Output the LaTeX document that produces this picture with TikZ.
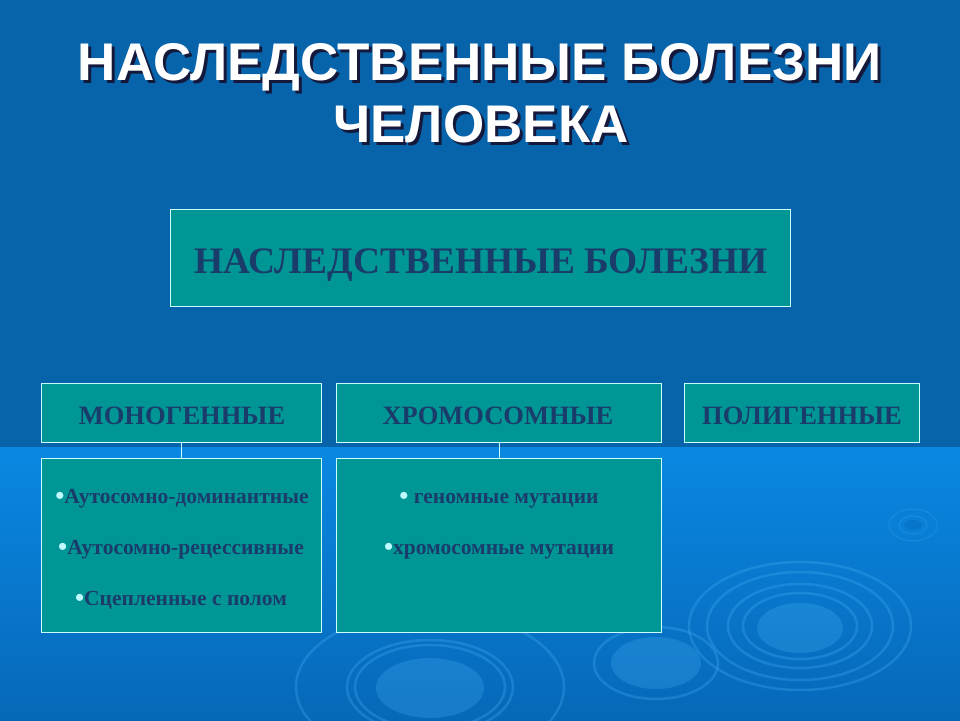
\documentclass[tikz,border=0pt]{standalone}
\usepackage{fontspec}
\setmainfont{Liberation Serif}
\newfontfamily\titlefont{Liberation Sans}
\definecolor{bgtop}{RGB}{8,100,170}
\definecolor{bglow}{RGB}{10,136,226}
\definecolor{bgbot}{RGB}{6,104,184}
\definecolor{boxfill}{RGB}{0,150,150}
\definecolor{boxline}{RGB}{200,255,255}
\definecolor{boxtext}{RGB}{26,60,106}
\definecolor{bulletc}{RGB}{190,250,255}
\definecolor{shadowc}{RGB}{20,25,60}
\definecolor{ripple}{RGB}{70,175,245}
\tikzset{
  box/.style={draw=boxline, line width=1.1pt, fill=boxfill, inner sep=0pt, anchor=north west},
  hdr/.style={anchor=base, text=boxtext, font=\bfseries\fontsize{26.5}{30}\selectfont, inner sep=0pt},
  item/.style={anchor=base, text=boxtext, font=\bfseries\fontsize{21.5}{24}\selectfont, inner sep=0pt},
  ttl/.style={anchor=base, text=white, font=\titlefont\bfseries\fontsize{53}{60}\selectfont, inner sep=0pt},
  link/.style={draw=boxline, line width=1pt},
  ring/.style={draw=ripple, line width=2.5pt, draw opacity=0.3},
  blob/.style={fill=ripple, fill opacity=0.28},
}
\newcommand{\bul}{{\color{bulletc}\fontsize{26}{26}\selectfont\raisebox{-1.5pt}{•}}}
\newcommand{\shadowtext}[1]{{\color{shadowc}\rlap{\kern3pt\raisebox{-3pt}{#1}}}#1}
\begin{document}
\begin{tikzpicture}[x=1pt,y=-1pt]
\useasboundingbox (0,0) rectangle (960,720);
\begin{scope}
\clip (0,0) rectangle (960,720);
\fill[bgtop] (0,0) rectangle (960,447);
\shade[top color=bglow, bottom color=bgbot] (0,447) rectangle (960,720);
% ripples
\foreach \rx/\ry in {111/64, 93/54, 72/42, 57/33} {\draw[ring] (800,626) ellipse ({\rx pt} and {\ry pt});}
\fill[blob] (800,628) ellipse (43pt and 25pt);
\foreach \rx/\ry in {134/76, 83/47, 75/42} {\draw[ring] (430,687) ellipse ({\rx pt} and {\ry pt});}
\fill[blob] (430,688) ellipse (54pt and 30pt);
\draw[ring] (656,663) ellipse (62pt and 36pt);
\fill[blob] (656,663) ellipse (45pt and 26pt);
\draw[ring, draw opacity=0.2, line width=1.5pt] (913,525) ellipse (24pt and 16pt);
\draw[ring, draw opacity=0.2, line width=1.5pt] (913,525) ellipse (14pt and 9pt);
\fill[blob, fill=bgbot, fill opacity=0.4] (913,525) ellipse (9pt and 5pt);
\end{scope}
% title
\node[ttl] (t1) at (480,80) {\shadowtext{НАСЛЕДСТВЕННЫЕ БОЛЕЗНИ}};
\node[ttl] (t2) at (481,142) {\shadowtext{ЧЕЛОВЕКА}};
% boxes
\node[box, minimum width=620pt, minimum height=97pt] (main) at (170,209) {};
\node[box, minimum width=280pt, minimum height=59pt] (mono) at (41,383) {};
\node[box, minimum width=325pt, minimum height=59pt] (chrom) at (336,383) {};
\node[box, minimum width=235pt, minimum height=59pt] (poly) at (684,383) {};
\node[box, minimum width=280pt, minimum height=174pt] (mlist) at (41,458) {};
\node[box, minimum width=325pt, minimum height=174pt] (clist) at (336,458) {};
\draw[link] (mono.south) -- (mlist.north);
\draw[link] (chrom.south) -- (clist.north);
% labels
\node[hdr, font=\bfseries\fontsize{37.4}{40}\selectfont] (mainl) at (481,273) {НАСЛЕДСТВЕННЫЕ БОЛЕЗНИ};
\node[hdr] (monol) at (182,424) {МОНОГЕННЫЕ};
\node[hdr] (chroml) at (498,424) {ХРОМОСОМНЫЕ};
\node[hdr] (polyl) at (802,424) {ПОЛИГЕННЫЕ};
\node[item] (m1) at (182,503) {\bul Аутосомно-доминантные};
\node[item] (m2) at (181,554) {\bul Аутосомно-рецессивные};
\node[item] (m3) at (181,605) {\bul Сцепленные с полом};
\node[item] (c1) at (499,503) {\bul\ геномные мутации};
\node[item] (c2) at (499,554) {\bul хромосомные мутации};
\end{tikzpicture}
\end{document}
